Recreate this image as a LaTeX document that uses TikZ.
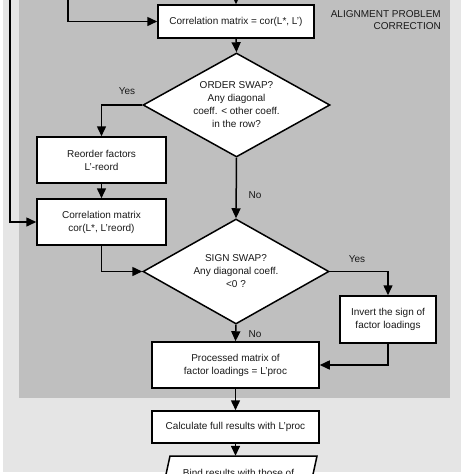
\documentclass[tikz,border=0pt]{standalone}
\usepackage{fontspec}
\setmainfont{Liberation Sans}
\usetikzlibrary{shapes.geometric,arrows.meta}
\begin{document}
\begin{tikzpicture}[x=1pt,y=-1pt,
  font=\fontsize{10}{13}\selectfont,
  box/.style={draw, line width=1.5pt, fill=white, inner sep=0pt, align=center, text=black!90},
  dec/.style={diamond, draw, line width=1.5pt, fill=white, inner sep=0pt, align=center, text=black!90, shape aspect=1.8},
  conn/.style={line width=1.5pt, -{Triangle[length=10pt,width=9pt]}},
  plain/.style={line width=1.5pt},
  lbl/.style={inner sep=0pt, text=black!90}]
\useasboundingbox (0,0) rectangle (474,474);
\clip (0,0) rectangle (474,474);
\fill[white] (0,0) rectangle (474,474);
\fill[black!10] (3,0) rectangle (461,472);
\fill[black!25] (19,0) rectangle (450,398);

\node[lbl, align=right, anchor=east, font=\fontsize{10}{12}\selectfont] (title) at (441,20) {ALIGNMENT PROBLEM\\CORRECTION};

\node[box, minimum width=156pt, minimum height=33pt] (A) at (236,21.5) {Correlation matrix = cor(L*, L')};
\node[dec, minimum width=187pt, minimum height=104pt] (D1) at (236.5,105) {ORDER SWAP?\\Any diagonal\\coeff. < other coeff.\\in the row?};
\node[box, minimum width=129pt, minimum height=46pt] (B) at (101.5,160) {Reorder factors\\L'-reord};
\node[box, minimum width=129pt, minimum height=46pt] (C) at (101.5,222) {Correlation matrix\\cor(L*, L'reord)};
\node[dec, minimum width=186pt, minimum height=105pt] (D2) at (236,271.5) {SIGN SWAP?\\Any diagonal coeff.\\<0 ?};
\node[box, minimum width=96pt, minimum height=47pt] (E) at (388,319.5) {Invert the sign of\\factor loadings};
\node[box, minimum width=167pt, minimum height=46pt] (F) at (235.5,365) {Processed matrix of\\factor loadings = L'proc};
\node[box, minimum width=167pt, minimum height=32pt] (G) at (235.5,427) {Calculate full results with L'proc};

\draw[plain, fill=white, line join=miter] (170,456) -- (317,456) -- (307,502) -- (160,502) -- cycle;
\node[inner sep=0pt, minimum width=157pt, minimum height=46pt, align=center, text=black!90] (H) at (238.5,479) {Bind results with those of\\~};

\coordinate (topin) at (236,0);
\coordinate (fbA) at (68,0);
\coordinate (fbC) at (10,0);

\draw[conn] (topin) -- (A.north);
\draw[conn] (fbA) |- (A.west);
\draw[conn] (fbC) |- (C.west);
\draw[conn] (A.south) -- (D1.north);
\draw[conn] (D1.west) -| (B.north);
\draw[conn] (B.south) -- (C.north);
\draw[conn] (D1.south) -- (D2.north);
\draw[conn] (C.south) |- (D2.west);
\draw[conn] (D2.east) -| (E.north);
\draw[conn] (E.south) |- (F.east);
\draw[conn] (D2.south) -- (F.north);
\draw[conn] (F.south) -- (G.north);
\draw[conn] (G.south) -- (G.south |- H.north);

\node[lbl] (yes1) at (127,91) {Yes};
\node[lbl] (no1) at (255,195) {No};
\node[lbl] (yes2) at (357,259) {Yes};
\node[lbl] (no2) at (255,334) {No};
\end{tikzpicture}
\end{document}
